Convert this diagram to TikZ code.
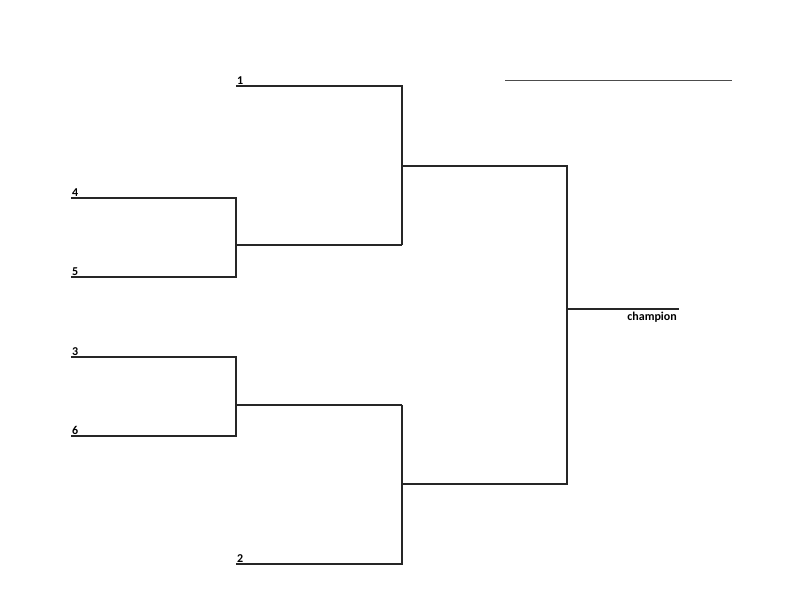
\documentclass[tikz,border=0pt]{standalone}
\usepackage{fontspec}
\setmainfont{Carlito}
\usetikzlibrary{positioning}
\tikzset{
  seed/.style={font=\bfseries\fontsize{12}{14}\selectfont, inner sep=1pt, anchor=south west},
  bracket/.style={line width=1.6pt, draw=black!85},
}

\begin{document}
\begin{tikzpicture}[x=1pt,y=-1pt]
      \useasboundingbox[fill=white] (0,0) rectangle (794,613);

      % first round
      \coordinate (s4) at (71,198); \coordinate (s4e) at (236,198);
      \coordinate (s5) at (71,277); \coordinate (s5e) at (236,277);
      \coordinate (s3) at (71,357); \coordinate (s3e) at (236,357);
      \coordinate (s6) at (71,436); \coordinate (s6e) at (236,436);
      \coordinate (w45) at (236,245); \coordinate (w45e) at (402,245);
      \coordinate (w36) at (236,405); \coordinate (w36e) at (402,405);
      % byes
      \coordinate (s1) at (236,86); \coordinate (s1e) at (402,86);
      \coordinate (s2) at (236,564); \coordinate (s2e) at (402,564);
      % semis and final
      \coordinate (sa) at (402,166); \coordinate (sae) at (567,166);
      \coordinate (sb) at (402,484); \coordinate (sbe) at (567,484);
      \coordinate (fin) at (567,309); \coordinate (fine) at (679,309);
      \coordinate (tl) at (505,80); \coordinate (tr) at (732,80);

      \draw[bracket] (s4) -- (s4e) -- (s5e) -- (s5);
      \draw[bracket] (s3) -- (s3e) -- (s6e) -- (s6);
      \draw[bracket] (w45) -- (w45e);
      \draw[bracket] (w36) -- (w36e);
      \draw[bracket] (s1) -- (s1e) -- (w45e);
      \draw[bracket] (s2) -- (s2e) -- (w36e);
      \draw[bracket] (sa) -- (sae) -- (sbe) -- (sb);
      \draw[bracket] (fin) -- (fine);
      \draw[line width=1pt, draw=black!70] (tl) -- (tr);

      \node[seed] (n1) at (s1) {1};
      \node[seed] (n2) at (s2) {2};
      \node[seed] (n3) at (s3) {3};
      \node[seed] (n4) at (s4) {4};
      \node[seed] (n5) at (s5) {5};
      \node[seed] (n6) at (s6) {6};
      \node[seed, anchor=north east, inner sep=2pt, yshift=-1pt] (champ) at (fine) {champion};
\end{tikzpicture}
\end{document}
